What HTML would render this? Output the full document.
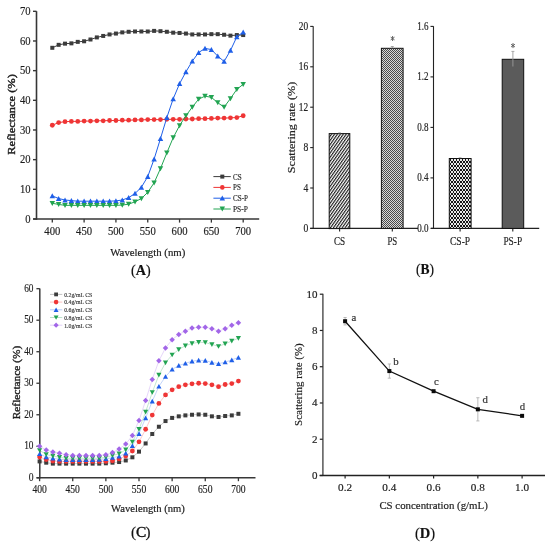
<!DOCTYPE html>
<html><head><meta charset="utf-8"><title>Figure</title>
<style>
html,body{margin:0;padding:0;background:#fff;}
body{width:550px;height:545px;overflow:hidden;font-family:"Liberation Serif", serif;}
svg{display:block;filter:blur(0.3px);}
text{font-variant-ligatures:none;font-feature-settings:"liga" 0;font-kerning:normal;}
</style></head><body>
<svg width="550" height="545" viewBox="0 0 550 545" font-family='"Liberation Serif", serif'><defs>
<pattern id="hatch" patternUnits="userSpaceOnUse" width="2.4" height="2.4" patternTransform="rotate(35)">
<rect width="2.4" height="2.4" fill="#fff"/><rect width="1.15" height="2.4" fill="#1a1a1a"/></pattern>
<pattern id="chk1" patternUnits="userSpaceOnUse" width="2" height="2">
<rect width="2" height="2" fill="#d8d8d8"/><rect width="1" height="1" fill="#4a4a4a"/><rect x="1" y="1" width="1" height="1" fill="#4a4a4a"/></pattern>
<pattern id="chk2" patternUnits="userSpaceOnUse" width="3" height="4" x="450" y="159"><rect width="3" height="4" fill="#e8e8e8"/><rect x="0" y="0" width="1" height="2" fill="#151515"/><rect x="1" y="2" width="2" height="2" fill="#151515"/></pattern>
</defs><line x1="36.5" y1="11.2" x2="36.5" y2="219.8" stroke="#363636" stroke-width="1.6"/>
<line x1="33.2" y1="219" x2="259.2" y2="219" stroke="#363636" stroke-width="1.6"/>
<line x1="33" y1="219" x2="36.5" y2="219" stroke="#363636" stroke-width="1.4"/>
<text x="30.5" y="222.7" font-size="12.6" text-anchor="end" fill="#1e1e1e" textLength="5.3" lengthAdjust="spacingAndGlyphs" stroke="#1e1e1e" stroke-width="0.18">0</text>
<line x1="33" y1="189.33" x2="36.5" y2="189.33" stroke="#363636" stroke-width="1.4"/>
<text x="30.5" y="193.03" font-size="12.6" text-anchor="end" fill="#1e1e1e" textLength="10.6" lengthAdjust="spacingAndGlyphs" stroke="#1e1e1e" stroke-width="0.18">10</text>
<line x1="33" y1="159.66" x2="36.5" y2="159.66" stroke="#363636" stroke-width="1.4"/>
<text x="30.5" y="163.36" font-size="12.6" text-anchor="end" fill="#1e1e1e" textLength="10.6" lengthAdjust="spacingAndGlyphs" stroke="#1e1e1e" stroke-width="0.18">20</text>
<line x1="33" y1="129.99" x2="36.5" y2="129.99" stroke="#363636" stroke-width="1.4"/>
<text x="30.5" y="133.69" font-size="12.6" text-anchor="end" fill="#1e1e1e" textLength="10.6" lengthAdjust="spacingAndGlyphs" stroke="#1e1e1e" stroke-width="0.18">30</text>
<line x1="33" y1="100.32" x2="36.5" y2="100.32" stroke="#363636" stroke-width="1.4"/>
<text x="30.5" y="104.02" font-size="12.6" text-anchor="end" fill="#1e1e1e" textLength="10.6" lengthAdjust="spacingAndGlyphs" stroke="#1e1e1e" stroke-width="0.18">40</text>
<line x1="33" y1="70.65" x2="36.5" y2="70.65" stroke="#363636" stroke-width="1.4"/>
<text x="30.5" y="74.35" font-size="12.6" text-anchor="end" fill="#1e1e1e" textLength="10.6" lengthAdjust="spacingAndGlyphs" stroke="#1e1e1e" stroke-width="0.18">50</text>
<line x1="33" y1="40.98" x2="36.5" y2="40.98" stroke="#363636" stroke-width="1.4"/>
<text x="30.5" y="44.68" font-size="12.6" text-anchor="end" fill="#1e1e1e" textLength="10.6" lengthAdjust="spacingAndGlyphs" stroke="#1e1e1e" stroke-width="0.18">60</text>
<line x1="33" y1="11.31" x2="36.5" y2="11.31" stroke="#363636" stroke-width="1.4"/>
<text x="30.5" y="15.01" font-size="12.6" text-anchor="end" fill="#1e1e1e" textLength="10.6" lengthAdjust="spacingAndGlyphs" stroke="#1e1e1e" stroke-width="0.18">70</text>
<line x1="52.3" y1="219" x2="52.3" y2="222.6" stroke="#363636" stroke-width="1.3"/>
<text x="52.3" y="235.3" font-size="12.2" text-anchor="middle" fill="#1e1e1e" textLength="16" lengthAdjust="spacingAndGlyphs" stroke="#1e1e1e" stroke-width="0.18">400</text>
<line x1="84.11" y1="219" x2="84.11" y2="222.6" stroke="#363636" stroke-width="1.3"/>
<text x="84.11" y="235.3" font-size="12.2" text-anchor="middle" fill="#1e1e1e" textLength="16" lengthAdjust="spacingAndGlyphs" stroke="#1e1e1e" stroke-width="0.18">450</text>
<line x1="115.93" y1="219" x2="115.93" y2="222.6" stroke="#363636" stroke-width="1.3"/>
<text x="115.93" y="235.3" font-size="12.2" text-anchor="middle" fill="#1e1e1e" textLength="16" lengthAdjust="spacingAndGlyphs" stroke="#1e1e1e" stroke-width="0.18">500</text>
<line x1="147.75" y1="219" x2="147.75" y2="222.6" stroke="#363636" stroke-width="1.3"/>
<text x="147.75" y="235.3" font-size="12.2" text-anchor="middle" fill="#1e1e1e" textLength="16" lengthAdjust="spacingAndGlyphs" stroke="#1e1e1e" stroke-width="0.18">550</text>
<line x1="179.56" y1="219" x2="179.56" y2="222.6" stroke="#363636" stroke-width="1.3"/>
<text x="179.56" y="235.3" font-size="12.2" text-anchor="middle" fill="#1e1e1e" textLength="16" lengthAdjust="spacingAndGlyphs" stroke="#1e1e1e" stroke-width="0.18">600</text>
<line x1="211.38" y1="219" x2="211.38" y2="222.6" stroke="#363636" stroke-width="1.3"/>
<text x="211.38" y="235.3" font-size="12.2" text-anchor="middle" fill="#1e1e1e" textLength="16" lengthAdjust="spacingAndGlyphs" stroke="#1e1e1e" stroke-width="0.18">650</text>
<line x1="243.19" y1="219" x2="243.19" y2="222.6" stroke="#363636" stroke-width="1.3"/>
<text x="243.19" y="235.3" font-size="12.2" text-anchor="middle" fill="#1e1e1e" textLength="16" lengthAdjust="spacingAndGlyphs" stroke="#1e1e1e" stroke-width="0.18">700</text>
<text x="147.8" y="255.6" font-size="11.4" text-anchor="middle" fill="#1e1e1e" textLength="75" lengthAdjust="spacingAndGlyphs" stroke="#1e1e1e" stroke-width="0.22">Wavelength (nm)</text>
<text x="14.9" y="114.4" font-size="10.6" text-anchor="middle" fill="#1e1e1e" textLength="80.6" lengthAdjust="spacingAndGlyphs" transform="rotate(-90 14.9 114.4)" stroke="#1e1e1e" stroke-width="0.4">Reflectance (%)</text>
<polyline points="52.3,47.8 58.66,44.84 65.03,43.65 71.39,43.35 77.75,41.87 84.11,41.28 90.48,39.5 96.84,37.42 103.2,35.94 109.57,34.45 115.93,33.56 122.29,32.38 128.66,31.78 135.02,31.49 141.38,31.49 147.75,31.49 154.11,30.89 160.47,31.19 166.83,31.78 173.2,32.67 179.56,32.97 185.92,33.56 192.29,34.45 198.65,34.45 205.01,34.45 211.38,34.16 217.74,34.16 224.1,34.75 230.46,35.64 236.83,35.05 243.19,35.05" fill="none" stroke="#3c3c3c" stroke-width="1"/>
<rect x="50.3" y="45.8" width="4" height="4" fill="#3c3c3c"/>
<rect x="56.66" y="42.84" width="4" height="4" fill="#3c3c3c"/>
<rect x="63.03" y="41.65" width="4" height="4" fill="#3c3c3c"/>
<rect x="69.39" y="41.35" width="4" height="4" fill="#3c3c3c"/>
<rect x="75.75" y="39.87" width="4" height="4" fill="#3c3c3c"/>
<rect x="82.11" y="39.28" width="4" height="4" fill="#3c3c3c"/>
<rect x="88.48" y="37.5" width="4" height="4" fill="#3c3c3c"/>
<rect x="94.84" y="35.42" width="4" height="4" fill="#3c3c3c"/>
<rect x="101.2" y="33.94" width="4" height="4" fill="#3c3c3c"/>
<rect x="107.57" y="32.45" width="4" height="4" fill="#3c3c3c"/>
<rect x="113.93" y="31.56" width="4" height="4" fill="#3c3c3c"/>
<rect x="120.29" y="30.38" width="4" height="4" fill="#3c3c3c"/>
<rect x="126.66" y="29.78" width="4" height="4" fill="#3c3c3c"/>
<rect x="133.02" y="29.49" width="4" height="4" fill="#3c3c3c"/>
<rect x="139.38" y="29.49" width="4" height="4" fill="#3c3c3c"/>
<rect x="145.75" y="29.49" width="4" height="4" fill="#3c3c3c"/>
<rect x="152.11" y="28.89" width="4" height="4" fill="#3c3c3c"/>
<rect x="158.47" y="29.19" width="4" height="4" fill="#3c3c3c"/>
<rect x="164.83" y="29.78" width="4" height="4" fill="#3c3c3c"/>
<rect x="171.2" y="30.67" width="4" height="4" fill="#3c3c3c"/>
<rect x="177.56" y="30.97" width="4" height="4" fill="#3c3c3c"/>
<rect x="183.92" y="31.56" width="4" height="4" fill="#3c3c3c"/>
<rect x="190.29" y="32.45" width="4" height="4" fill="#3c3c3c"/>
<rect x="196.65" y="32.45" width="4" height="4" fill="#3c3c3c"/>
<rect x="203.01" y="32.45" width="4" height="4" fill="#3c3c3c"/>
<rect x="209.38" y="32.16" width="4" height="4" fill="#3c3c3c"/>
<rect x="215.74" y="32.16" width="4" height="4" fill="#3c3c3c"/>
<rect x="222.1" y="32.75" width="4" height="4" fill="#3c3c3c"/>
<rect x="228.46" y="33.64" width="4" height="4" fill="#3c3c3c"/>
<rect x="234.83" y="33.05" width="4" height="4" fill="#3c3c3c"/>
<rect x="241.19" y="33.05" width="4" height="4" fill="#3c3c3c"/>
<polyline points="52.3,125.24 58.66,122.57 65.03,121.68 71.39,121.39 77.75,121.39 84.11,121.09 90.48,121.09 96.84,120.79 103.2,120.79 109.57,120.5 115.93,120.5 122.29,120.2 128.66,120.2 135.02,119.9 141.38,119.9 147.75,119.61 154.11,119.61 160.47,119.61 166.83,119.31 173.2,119.31 179.56,119.31 185.92,119.01 192.29,119.01 198.65,118.72 205.01,118.72 211.38,118.42 217.74,118.12 224.1,118.12 230.46,117.83 236.83,117.53 243.19,115.75" fill="none" stroke="#ef3535" stroke-width="1"/>
<circle cx="52.3" cy="125.24" r="2.4" fill="#ef3535"/>
<circle cx="58.66" cy="122.57" r="2.4" fill="#ef3535"/>
<circle cx="65.03" cy="121.68" r="2.4" fill="#ef3535"/>
<circle cx="71.39" cy="121.39" r="2.4" fill="#ef3535"/>
<circle cx="77.75" cy="121.39" r="2.4" fill="#ef3535"/>
<circle cx="84.11" cy="121.09" r="2.4" fill="#ef3535"/>
<circle cx="90.48" cy="121.09" r="2.4" fill="#ef3535"/>
<circle cx="96.84" cy="120.79" r="2.4" fill="#ef3535"/>
<circle cx="103.2" cy="120.79" r="2.4" fill="#ef3535"/>
<circle cx="109.57" cy="120.5" r="2.4" fill="#ef3535"/>
<circle cx="115.93" cy="120.5" r="2.4" fill="#ef3535"/>
<circle cx="122.29" cy="120.2" r="2.4" fill="#ef3535"/>
<circle cx="128.66" cy="120.2" r="2.4" fill="#ef3535"/>
<circle cx="135.02" cy="119.9" r="2.4" fill="#ef3535"/>
<circle cx="141.38" cy="119.9" r="2.4" fill="#ef3535"/>
<circle cx="147.75" cy="119.61" r="2.4" fill="#ef3535"/>
<circle cx="154.11" cy="119.61" r="2.4" fill="#ef3535"/>
<circle cx="160.47" cy="119.61" r="2.4" fill="#ef3535"/>
<circle cx="166.83" cy="119.31" r="2.4" fill="#ef3535"/>
<circle cx="173.2" cy="119.31" r="2.4" fill="#ef3535"/>
<circle cx="179.56" cy="119.31" r="2.4" fill="#ef3535"/>
<circle cx="185.92" cy="119.01" r="2.4" fill="#ef3535"/>
<circle cx="192.29" cy="119.01" r="2.4" fill="#ef3535"/>
<circle cx="198.65" cy="118.72" r="2.4" fill="#ef3535"/>
<circle cx="205.01" cy="118.72" r="2.4" fill="#ef3535"/>
<circle cx="211.38" cy="118.42" r="2.4" fill="#ef3535"/>
<circle cx="217.74" cy="118.12" r="2.4" fill="#ef3535"/>
<circle cx="224.1" cy="118.12" r="2.4" fill="#ef3535"/>
<circle cx="230.46" cy="117.83" r="2.4" fill="#ef3535"/>
<circle cx="236.83" cy="117.53" r="2.4" fill="#ef3535"/>
<circle cx="243.19" cy="115.75" r="2.4" fill="#ef3535"/>
<polyline points="52.3,195.86 58.66,198.53 65.03,200.01 71.39,200.6 77.75,201.2 84.11,201.2 90.48,201.2 96.84,201.2 103.2,201.2 109.57,201.2 115.93,200.9 122.29,200.01 128.66,197.64 135.02,193.48 141.38,187.25 147.75,176.57 154.11,159.07 160.47,138.59 166.83,117.53 173.2,98.84 179.56,83.7 185.92,71.84 192.29,61.16 198.65,52.55 205.01,48.4 211.38,49.58 217.74,56.11 224.1,61.45 230.46,50.47 236.83,36.83 243.19,32.08" fill="none" stroke="#1f5fe8" stroke-width="1"/>
<path d="M52.3 193.23L55.05 198.23L49.55 198.23Z" fill="#1f5fe8"/>
<path d="M58.66 195.9L61.41 200.9L55.91 200.9Z" fill="#1f5fe8"/>
<path d="M65.03 197.39L67.78 202.39L62.28 202.39Z" fill="#1f5fe8"/>
<path d="M71.39 197.98L74.14 202.98L68.64 202.98Z" fill="#1f5fe8"/>
<path d="M77.75 198.57L80.5 203.57L75 203.57Z" fill="#1f5fe8"/>
<path d="M84.11 198.57L86.86 203.57L81.36 203.57Z" fill="#1f5fe8"/>
<path d="M90.48 198.57L93.23 203.57L87.73 203.57Z" fill="#1f5fe8"/>
<path d="M96.84 198.57L99.59 203.57L94.09 203.57Z" fill="#1f5fe8"/>
<path d="M103.2 198.57L105.95 203.57L100.45 203.57Z" fill="#1f5fe8"/>
<path d="M109.57 198.57L112.32 203.57L106.82 203.57Z" fill="#1f5fe8"/>
<path d="M115.93 198.28L118.68 203.28L113.18 203.28Z" fill="#1f5fe8"/>
<path d="M122.29 197.39L125.04 202.39L119.54 202.39Z" fill="#1f5fe8"/>
<path d="M128.66 195.01L131.41 200.01L125.91 200.01Z" fill="#1f5fe8"/>
<path d="M135.02 190.86L137.77 195.86L132.27 195.86Z" fill="#1f5fe8"/>
<path d="M141.38 184.63L144.13 189.63L138.63 189.63Z" fill="#1f5fe8"/>
<path d="M147.75 173.95L150.5 178.95L145 178.95Z" fill="#1f5fe8"/>
<path d="M154.11 156.44L156.86 161.44L151.36 161.44Z" fill="#1f5fe8"/>
<path d="M160.47 135.97L163.22 140.97L157.72 140.97Z" fill="#1f5fe8"/>
<path d="M166.83 114.9L169.58 119.9L164.08 119.9Z" fill="#1f5fe8"/>
<path d="M173.2 96.21L175.95 101.21L170.45 101.21Z" fill="#1f5fe8"/>
<path d="M179.56 81.08L182.31 86.08L176.81 86.08Z" fill="#1f5fe8"/>
<path d="M185.92 69.21L188.67 74.21L183.17 74.21Z" fill="#1f5fe8"/>
<path d="M192.29 58.53L195.04 63.53L189.54 63.53Z" fill="#1f5fe8"/>
<path d="M198.65 49.93L201.4 54.93L195.9 54.93Z" fill="#1f5fe8"/>
<path d="M205.01 45.77L207.76 50.77L202.26 50.77Z" fill="#1f5fe8"/>
<path d="M211.38 46.96L214.12 51.96L208.62 51.96Z" fill="#1f5fe8"/>
<path d="M217.74 53.49L220.49 58.49L214.99 58.49Z" fill="#1f5fe8"/>
<path d="M224.1 58.83L226.85 63.83L221.35 63.83Z" fill="#1f5fe8"/>
<path d="M230.46 47.85L233.21 52.85L227.71 52.85Z" fill="#1f5fe8"/>
<path d="M236.83 34.2L239.58 39.2L234.08 39.2Z" fill="#1f5fe8"/>
<path d="M243.19 29.45L245.94 34.45L240.44 34.45Z" fill="#1f5fe8"/>
<polyline points="52.3,203.27 58.66,204.46 65.03,205.35 71.39,205.35 77.75,205.35 84.11,205.35 90.48,205.35 96.84,205.35 103.2,205.35 109.57,205.35 115.93,205.35 122.29,205.06 128.66,204.16 135.02,201.79 141.38,198.53 147.75,192.3 154.11,182.8 160.47,168.56 166.83,152.84 173.2,137.7 179.56,125.54 185.92,115.75 192.29,107.14 198.65,99.13 205.01,96.17 211.38,97.35 217.74,102.69 224.1,107.14 230.46,98.54 236.83,89.34 243.19,84.3" fill="none" stroke="#22a452" stroke-width="1"/>
<path d="M52.3 205.9L55.05 200.9L49.55 200.9Z" fill="#22a452"/>
<path d="M58.66 207.09L61.41 202.09L55.91 202.09Z" fill="#22a452"/>
<path d="M65.03 207.98L67.78 202.98L62.28 202.98Z" fill="#22a452"/>
<path d="M71.39 207.98L74.14 202.98L68.64 202.98Z" fill="#22a452"/>
<path d="M77.75 207.98L80.5 202.98L75 202.98Z" fill="#22a452"/>
<path d="M84.11 207.98L86.86 202.98L81.36 202.98Z" fill="#22a452"/>
<path d="M90.48 207.98L93.23 202.98L87.73 202.98Z" fill="#22a452"/>
<path d="M96.84 207.98L99.59 202.98L94.09 202.98Z" fill="#22a452"/>
<path d="M103.2 207.98L105.95 202.98L100.45 202.98Z" fill="#22a452"/>
<path d="M109.57 207.98L112.32 202.98L106.82 202.98Z" fill="#22a452"/>
<path d="M115.93 207.98L118.68 202.98L113.18 202.98Z" fill="#22a452"/>
<path d="M122.29 207.68L125.04 202.68L119.54 202.68Z" fill="#22a452"/>
<path d="M128.66 206.79L131.41 201.79L125.91 201.79Z" fill="#22a452"/>
<path d="M135.02 204.42L137.77 199.42L132.27 199.42Z" fill="#22a452"/>
<path d="M141.38 201.15L144.13 196.15L138.63 196.15Z" fill="#22a452"/>
<path d="M147.75 194.92L150.5 189.92L145 189.92Z" fill="#22a452"/>
<path d="M154.11 185.43L156.86 180.43L151.36 180.43Z" fill="#22a452"/>
<path d="M160.47 171.19L163.22 166.19L157.72 166.19Z" fill="#22a452"/>
<path d="M166.83 155.46L169.58 150.46L164.08 150.46Z" fill="#22a452"/>
<path d="M173.2 140.33L175.95 135.33L170.45 135.33Z" fill="#22a452"/>
<path d="M179.56 128.16L182.31 123.16L176.81 123.16Z" fill="#22a452"/>
<path d="M185.92 118.37L188.67 113.37L183.17 113.37Z" fill="#22a452"/>
<path d="M192.29 109.77L195.04 104.77L189.54 104.77Z" fill="#22a452"/>
<path d="M198.65 101.76L201.4 96.76L195.9 96.76Z" fill="#22a452"/>
<path d="M205.01 98.79L207.76 93.79L202.26 93.79Z" fill="#22a452"/>
<path d="M211.38 99.98L214.12 94.98L208.62 94.98Z" fill="#22a452"/>
<path d="M217.74 105.32L220.49 100.32L214.99 100.32Z" fill="#22a452"/>
<path d="M224.1 109.77L226.85 104.77L221.35 104.77Z" fill="#22a452"/>
<path d="M230.46 101.16L233.21 96.16L227.71 96.16Z" fill="#22a452"/>
<path d="M236.83 91.97L239.58 86.97L234.08 86.97Z" fill="#22a452"/>
<path d="M243.19 86.92L245.94 81.92L240.44 81.92Z" fill="#22a452"/>
<line x1="213.4" y1="176.6" x2="230.8" y2="176.6" stroke="#3c3c3c" stroke-width="1"/>
<rect x="220.3" y="174.6" width="4" height="4" fill="#3c3c3c"/>
<text x="233" y="179.5" font-size="8.4" text-anchor="start" fill="#2a2a2a" textLength="8.6" lengthAdjust="spacingAndGlyphs" stroke="#2a2a2a" stroke-width="0.18">CS</text>
<line x1="213.4" y1="187.4" x2="230.8" y2="187.4" stroke="#ef3535" stroke-width="1"/>
<circle cx="222.3" cy="187.4" r="2.3" fill="#ef3535"/>
<text x="233" y="190.3" font-size="8.4" text-anchor="start" fill="#2a2a2a" textLength="7.8" lengthAdjust="spacingAndGlyphs" stroke="#2a2a2a" stroke-width="0.18">PS</text>
<line x1="213.4" y1="198.2" x2="230.8" y2="198.2" stroke="#1f5fe8" stroke-width="1"/>
<path d="M222.3 195.57L225.05 200.57L219.55 200.57Z" fill="#1f5fe8"/>
<text x="233" y="201.1" font-size="8.4" text-anchor="start" fill="#2a2a2a" textLength="15" lengthAdjust="spacingAndGlyphs" stroke="#2a2a2a" stroke-width="0.18">CS-P</text>
<line x1="213.4" y1="209" x2="230.8" y2="209" stroke="#22a452" stroke-width="1"/>
<path d="M222.3 211.62L225.05 206.62L219.55 206.62Z" fill="#22a452"/>
<text x="233" y="211.9" font-size="8.4" text-anchor="start" fill="#2a2a2a" textLength="14.8" lengthAdjust="spacingAndGlyphs" stroke="#2a2a2a" stroke-width="0.18">PS-P</text>
<text x="140.8" y="274.9" font-size="15" text-anchor="middle" fill="#111" textLength="19.6" lengthAdjust="spacingAndGlyphs" stroke="#111" stroke-width="0.18">(<tspan font-weight="bold">A</tspan>)</text>
<line x1="313.2" y1="26.2" x2="313.2" y2="229" stroke="#222" stroke-width="1.1"/>
<line x1="310.2" y1="228.4" x2="418" y2="228.4" stroke="#222" stroke-width="1.3"/>
<line x1="310.2" y1="228.4" x2="313.2" y2="228.4" stroke="#222" stroke-width="1.1"/>
<text x="308.2" y="231.9" font-size="11.8" text-anchor="end" fill="#222" textLength="4.8" lengthAdjust="spacingAndGlyphs" stroke="#222" stroke-width="0.18">0</text>
<line x1="310.2" y1="188" x2="313.2" y2="188" stroke="#222" stroke-width="1.1"/>
<text x="308.2" y="191.5" font-size="11.8" text-anchor="end" fill="#222" textLength="4.8" lengthAdjust="spacingAndGlyphs" stroke="#222" stroke-width="0.18">4</text>
<line x1="310.2" y1="147.6" x2="313.2" y2="147.6" stroke="#222" stroke-width="1.1"/>
<text x="308.2" y="151.1" font-size="11.8" text-anchor="end" fill="#222" textLength="4.8" lengthAdjust="spacingAndGlyphs" stroke="#222" stroke-width="0.18">8</text>
<line x1="310.2" y1="107.2" x2="313.2" y2="107.2" stroke="#222" stroke-width="1.1"/>
<text x="308.2" y="110.7" font-size="11.8" text-anchor="end" fill="#222" textLength="9.4" lengthAdjust="spacingAndGlyphs" stroke="#222" stroke-width="0.18">12</text>
<line x1="310.2" y1="66.8" x2="313.2" y2="66.8" stroke="#222" stroke-width="1.1"/>
<text x="308.2" y="70.3" font-size="11.8" text-anchor="end" fill="#222" textLength="9.4" lengthAdjust="spacingAndGlyphs" stroke="#222" stroke-width="0.18">16</text>
<line x1="310.2" y1="26.4" x2="313.2" y2="26.4" stroke="#222" stroke-width="1.1"/>
<text x="308.2" y="29.9" font-size="11.8" text-anchor="end" fill="#222" textLength="9.4" lengthAdjust="spacingAndGlyphs" stroke="#222" stroke-width="0.18">20</text>
<line x1="433.5" y1="26.2" x2="433.5" y2="229" stroke="#222" stroke-width="1.1"/>
<line x1="431" y1="228.4" x2="539.2" y2="228.4" stroke="#222" stroke-width="1.3"/>
<line x1="430.5" y1="228.4" x2="433.5" y2="228.4" stroke="#222" stroke-width="1.1"/>
<text x="428.6" y="231.9" font-size="11.8" text-anchor="end" fill="#222" textLength="11.3" lengthAdjust="spacingAndGlyphs" stroke="#222" stroke-width="0.18">0.0</text>
<line x1="430.5" y1="177.9" x2="433.5" y2="177.9" stroke="#222" stroke-width="1.1"/>
<text x="428.6" y="181.4" font-size="11.8" text-anchor="end" fill="#222" textLength="11.3" lengthAdjust="spacingAndGlyphs" stroke="#222" stroke-width="0.18">0.4</text>
<line x1="430.5" y1="127.4" x2="433.5" y2="127.4" stroke="#222" stroke-width="1.1"/>
<text x="428.6" y="130.9" font-size="11.8" text-anchor="end" fill="#222" textLength="11.3" lengthAdjust="spacingAndGlyphs" stroke="#222" stroke-width="0.18">0.8</text>
<line x1="430.5" y1="76.9" x2="433.5" y2="76.9" stroke="#222" stroke-width="1.1"/>
<text x="428.6" y="80.4" font-size="11.8" text-anchor="end" fill="#222" textLength="11.3" lengthAdjust="spacingAndGlyphs" stroke="#222" stroke-width="0.18">1.2</text>
<line x1="430.5" y1="26.4" x2="433.5" y2="26.4" stroke="#222" stroke-width="1.1"/>
<text x="428.6" y="29.9" font-size="11.8" text-anchor="end" fill="#222" textLength="11.3" lengthAdjust="spacingAndGlyphs" stroke="#222" stroke-width="0.18">1.6</text>
<line x1="339.6" y1="228.4" x2="339.6" y2="231.6" stroke="#222" stroke-width="1.1"/>
<text x="339.6" y="244.8" font-size="12.4" text-anchor="middle" fill="#222" textLength="11.2" lengthAdjust="spacingAndGlyphs" stroke="#222" stroke-width="0.18">CS</text>
<line x1="392.3" y1="228.4" x2="392.3" y2="231.6" stroke="#222" stroke-width="1.1"/>
<text x="392.3" y="244.8" font-size="12.4" text-anchor="middle" fill="#222" textLength="9.8" lengthAdjust="spacingAndGlyphs" stroke="#222" stroke-width="0.18">PS</text>
<line x1="460.1" y1="228.4" x2="460.1" y2="231.6" stroke="#222" stroke-width="1.1"/>
<text x="460.1" y="244.8" font-size="12.4" text-anchor="middle" fill="#222" textLength="20.2" lengthAdjust="spacingAndGlyphs" stroke="#222" stroke-width="0.18">CS-P</text>
<line x1="512.8" y1="228.4" x2="512.8" y2="231.6" stroke="#222" stroke-width="1.1"/>
<text x="512.8" y="244.8" font-size="12.4" text-anchor="middle" fill="#222" textLength="18.8" lengthAdjust="spacingAndGlyphs" stroke="#222" stroke-width="0.18">PS-P</text>
<rect x="329.2" y="133.6" width="20.6" height="95" fill="url(#hatch)" stroke="#111" stroke-width="1"/>
<rect x="381.4" y="48.3" width="21.7" height="180.1" fill="url(#chk1)" stroke="#111" stroke-width="1"/>
<rect x="449.3" y="158.5" width="21.8" height="69.9" fill="url(#chk2)" stroke="#111" stroke-width="1"/>
<rect x="502.2" y="59.3" width="21.5" height="169.1" fill="#5b5b5b" stroke="#111" stroke-width="1"/>
<line x1="392.3" y1="46.6" x2="392.3" y2="48.3" stroke="#888" stroke-width="0.8"/>
<line x1="390.8" y1="46.6" x2="393.8" y2="46.6" stroke="#888" stroke-width="0.8"/>
<line x1="512.9" y1="51.4" x2="512.9" y2="66.5" stroke="#9a9a9a" stroke-width="0.9"/>
<line x1="511.4" y1="51.4" x2="514.4" y2="51.4" stroke="#999" stroke-width="0.8"/>
<line x1="458.7" y1="157.7" x2="461.5" y2="157.7" stroke="#999" stroke-width="0.8"/>
<line x1="338.3" y1="133" x2="340.9" y2="133" stroke="#777" stroke-width="0.8"/>
<path d="M392.6 36V41M390.7 37.15L394.5 39.85M390.7 39.85L394.5 37.15" stroke="#5a5a5a" stroke-width="0.95" fill="none"/>
<path d="M513 43.1V48.1M511.1 44.25L514.9 46.95M511.1 46.95L514.9 44.25" stroke="#5a5a5a" stroke-width="0.95" fill="none"/>
<text x="295" y="127.5" font-size="9.8" text-anchor="middle" fill="#222" textLength="91.4" lengthAdjust="spacingAndGlyphs" transform="rotate(-90 295 127.5)" stroke="#222" stroke-width="0.18">Scattering rate (%)</text>
<text x="424.9" y="274.4" font-size="15" text-anchor="middle" fill="#111" textLength="18" lengthAdjust="spacingAndGlyphs" stroke="#111" stroke-width="0.18">(<tspan font-weight="bold">B</tspan>)</text>
<line x1="39.8" y1="288.4" x2="39.8" y2="478.5" stroke="#383838" stroke-width="1.5"/>
<line x1="36.6" y1="477.8" x2="255.5" y2="477.8" stroke="#383838" stroke-width="1.6"/>
<line x1="36.4" y1="477.8" x2="39.8" y2="477.8" stroke="#383838" stroke-width="1.3"/>
<text x="33.5" y="481" font-size="11.8" text-anchor="end" fill="#1e1e1e" textLength="4.8" lengthAdjust="spacingAndGlyphs" stroke="#1e1e1e" stroke-width="0.18">0</text>
<line x1="36.4" y1="446.28" x2="39.8" y2="446.28" stroke="#383838" stroke-width="1.3"/>
<text x="33.5" y="449.48" font-size="11.8" text-anchor="end" fill="#1e1e1e" textLength="9.3" lengthAdjust="spacingAndGlyphs" stroke="#1e1e1e" stroke-width="0.18">10</text>
<line x1="36.4" y1="414.76" x2="39.8" y2="414.76" stroke="#383838" stroke-width="1.3"/>
<text x="33.5" y="417.96" font-size="11.8" text-anchor="end" fill="#1e1e1e" textLength="9.3" lengthAdjust="spacingAndGlyphs" stroke="#1e1e1e" stroke-width="0.18">20</text>
<line x1="36.4" y1="383.24" x2="39.8" y2="383.24" stroke="#383838" stroke-width="1.3"/>
<text x="33.5" y="386.44" font-size="11.8" text-anchor="end" fill="#1e1e1e" textLength="9.3" lengthAdjust="spacingAndGlyphs" stroke="#1e1e1e" stroke-width="0.18">30</text>
<line x1="36.4" y1="351.72" x2="39.8" y2="351.72" stroke="#383838" stroke-width="1.3"/>
<text x="33.5" y="354.92" font-size="11.8" text-anchor="end" fill="#1e1e1e" textLength="9.3" lengthAdjust="spacingAndGlyphs" stroke="#1e1e1e" stroke-width="0.18">40</text>
<line x1="36.4" y1="320.2" x2="39.8" y2="320.2" stroke="#383838" stroke-width="1.3"/>
<text x="33.5" y="323.4" font-size="11.8" text-anchor="end" fill="#1e1e1e" textLength="9.3" lengthAdjust="spacingAndGlyphs" stroke="#1e1e1e" stroke-width="0.18">50</text>
<line x1="36.4" y1="288.68" x2="39.8" y2="288.68" stroke="#383838" stroke-width="1.3"/>
<text x="33.5" y="291.88" font-size="11.8" text-anchor="end" fill="#1e1e1e" textLength="9.3" lengthAdjust="spacingAndGlyphs" stroke="#1e1e1e" stroke-width="0.18">60</text>
<line x1="39.6" y1="477.8" x2="39.6" y2="481.2" stroke="#383838" stroke-width="1.3"/>
<text x="39.6" y="493.2" font-size="11.8" text-anchor="middle" fill="#1e1e1e" textLength="14.4" lengthAdjust="spacingAndGlyphs" stroke="#1e1e1e" stroke-width="0.18">400</text>
<line x1="72.73" y1="477.8" x2="72.73" y2="481.2" stroke="#383838" stroke-width="1.3"/>
<text x="72.73" y="493.2" font-size="11.8" text-anchor="middle" fill="#1e1e1e" textLength="14.4" lengthAdjust="spacingAndGlyphs" stroke="#1e1e1e" stroke-width="0.18">450</text>
<line x1="105.87" y1="477.8" x2="105.87" y2="481.2" stroke="#383838" stroke-width="1.3"/>
<text x="105.87" y="493.2" font-size="11.8" text-anchor="middle" fill="#1e1e1e" textLength="14.4" lengthAdjust="spacingAndGlyphs" stroke="#1e1e1e" stroke-width="0.18">500</text>
<line x1="139" y1="477.8" x2="139" y2="481.2" stroke="#383838" stroke-width="1.3"/>
<text x="139" y="493.2" font-size="11.8" text-anchor="middle" fill="#1e1e1e" textLength="14.4" lengthAdjust="spacingAndGlyphs" stroke="#1e1e1e" stroke-width="0.18">550</text>
<line x1="172.14" y1="477.8" x2="172.14" y2="481.2" stroke="#383838" stroke-width="1.3"/>
<text x="172.14" y="493.2" font-size="11.8" text-anchor="middle" fill="#1e1e1e" textLength="14.4" lengthAdjust="spacingAndGlyphs" stroke="#1e1e1e" stroke-width="0.18">600</text>
<line x1="205.27" y1="477.8" x2="205.27" y2="481.2" stroke="#383838" stroke-width="1.3"/>
<text x="205.27" y="493.2" font-size="11.8" text-anchor="middle" fill="#1e1e1e" textLength="14.4" lengthAdjust="spacingAndGlyphs" stroke="#1e1e1e" stroke-width="0.18">650</text>
<line x1="238.41" y1="477.8" x2="238.41" y2="481.2" stroke="#383838" stroke-width="1.3"/>
<text x="238.41" y="493.2" font-size="11.8" text-anchor="middle" fill="#1e1e1e" textLength="14.4" lengthAdjust="spacingAndGlyphs" stroke="#1e1e1e" stroke-width="0.18">700</text>
<text x="148" y="511.6" font-size="11.2" text-anchor="middle" fill="#1e1e1e" textLength="73.8" lengthAdjust="spacingAndGlyphs" stroke="#1e1e1e" stroke-width="0.22">Wavelength (nm)</text>
<text x="19.6" y="382.5" font-size="10.4" text-anchor="middle" fill="#1e1e1e" textLength="73.6" lengthAdjust="spacingAndGlyphs" transform="rotate(-90 19.6 382.5)" stroke="#1e1e1e" stroke-width="0.35">Reflectance (%)</text>
<polyline points="39.6,461.41 46.23,462.67 52.85,463.62 59.48,463.62 66.11,463.62 72.73,463.62 79.36,463.62 85.99,463.62 92.62,463.62 99.24,463.62 105.87,463.3 112.5,462.67 119.12,462.04 125.75,460.46 132.38,457.31 139,451.64 145.63,443.44 152.26,433.99 158.89,426.74 165.51,421.06 172.14,417.91 178.77,416.34 185.39,415.39 192.02,414.76 198.65,414.44 205.27,414.76 211.9,416.34 218.53,416.97 225.16,416.02 231.78,415.39 238.41,413.81" fill="none" stroke="#3c3c3c" stroke-width="0.6" stroke-opacity="0.45"/>
<polyline points="39.6,457 46.23,459.52 52.85,461.09 59.48,461.41 66.11,461.41 72.73,461.41 79.36,461.41 85.99,461.41 92.62,461.41 99.24,461.41 105.87,461.41 112.5,460.78 119.12,458.89 125.75,456.05 132.38,451.01 139,441.87 145.63,429.26 152.26,415.08 158.89,403.41 165.51,394.9 172.14,389.86 178.77,386.71 185.39,384.82 192.02,383.87 198.65,383.24 205.27,383.56 211.9,384.82 218.53,386.71 225.16,384.5 231.78,383.56 238.41,381.03" fill="none" stroke="#ef3535" stroke-width="0.6" stroke-opacity="0.45"/>
<polyline points="39.6,453.84 46.23,457 52.85,458.26 59.48,459.2 66.11,459.83 72.73,459.83 79.36,459.83 85.99,459.83 92.62,459.83 99.24,459.52 105.87,458.89 112.5,457.63 119.12,456.37 125.75,453.21 132.38,445.65 139,433.67 145.63,417.91 152.26,401.21 158.89,386.39 165.51,376.62 172.14,369.37 178.77,365.59 185.39,363.38 192.02,361.18 198.65,360.23 205.27,360.55 211.9,362.44 218.53,363.7 225.16,362.12 231.78,359.92 238.41,357.39" fill="none" stroke="#1f5fe8" stroke-width="0.6" stroke-opacity="0.45"/>
<polyline points="39.6,450.38 46.23,454.48 52.85,456.05 59.48,457.31 66.11,458.26 72.73,458.26 79.36,458.26 85.99,458.26 92.62,458.26 99.24,458.26 105.87,457.31 112.5,455.42 119.12,453.84 125.75,449.75 132.38,441.87 139,429.26 145.63,411.92 152.26,392.38 158.89,375.04 165.51,362.75 172.14,354.87 178.77,349.51 185.39,345.73 192.02,343.52 198.65,342.26 205.27,342.58 211.9,344.47 218.53,346.36 225.16,343.84 231.78,341 238.41,338.17" fill="none" stroke="#22a452" stroke-width="0.6" stroke-opacity="0.45"/>
<polyline points="39.6,446.28 46.23,450.06 52.85,451.95 59.48,453.21 66.11,454.79 72.73,455.42 79.36,455.42 85.99,455.42 92.62,455.42 99.24,455.42 105.87,454.79 112.5,452.58 119.12,449.12 125.75,444.07 132.38,435.56 139,420.43 145.63,400.58 152.26,379.46 158.89,360.86 165.51,347.94 172.14,339.74 178.77,334.38 185.39,331.23 192.02,328.08 198.65,327.13 205.27,327.13 211.9,328.71 218.53,331.23 225.16,328.71 231.78,325.24 238.41,322.72" fill="none" stroke="#a266e8" stroke-width="0.6" stroke-opacity="0.45"/>
<rect x="37.6" y="459.41" width="4" height="4" fill="#3c3c3c"/>
<rect x="44.23" y="460.67" width="4" height="4" fill="#3c3c3c"/>
<rect x="50.85" y="461.62" width="4" height="4" fill="#3c3c3c"/>
<rect x="57.48" y="461.62" width="4" height="4" fill="#3c3c3c"/>
<rect x="64.11" y="461.62" width="4" height="4" fill="#3c3c3c"/>
<rect x="70.73" y="461.62" width="4" height="4" fill="#3c3c3c"/>
<rect x="77.36" y="461.62" width="4" height="4" fill="#3c3c3c"/>
<rect x="83.99" y="461.62" width="4" height="4" fill="#3c3c3c"/>
<rect x="90.62" y="461.62" width="4" height="4" fill="#3c3c3c"/>
<rect x="97.24" y="461.62" width="4" height="4" fill="#3c3c3c"/>
<rect x="103.87" y="461.3" width="4" height="4" fill="#3c3c3c"/>
<rect x="110.5" y="460.67" width="4" height="4" fill="#3c3c3c"/>
<rect x="117.12" y="460.04" width="4" height="4" fill="#3c3c3c"/>
<rect x="123.75" y="458.46" width="4" height="4" fill="#3c3c3c"/>
<rect x="130.38" y="455.31" width="4" height="4" fill="#3c3c3c"/>
<rect x="137" y="449.64" width="4" height="4" fill="#3c3c3c"/>
<rect x="143.63" y="441.44" width="4" height="4" fill="#3c3c3c"/>
<rect x="150.26" y="431.99" width="4" height="4" fill="#3c3c3c"/>
<rect x="156.89" y="424.74" width="4" height="4" fill="#3c3c3c"/>
<rect x="163.51" y="419.06" width="4" height="4" fill="#3c3c3c"/>
<rect x="170.14" y="415.91" width="4" height="4" fill="#3c3c3c"/>
<rect x="176.77" y="414.34" width="4" height="4" fill="#3c3c3c"/>
<rect x="183.39" y="413.39" width="4" height="4" fill="#3c3c3c"/>
<rect x="190.02" y="412.76" width="4" height="4" fill="#3c3c3c"/>
<rect x="196.65" y="412.44" width="4" height="4" fill="#3c3c3c"/>
<rect x="203.27" y="412.76" width="4" height="4" fill="#3c3c3c"/>
<rect x="209.9" y="414.34" width="4" height="4" fill="#3c3c3c"/>
<rect x="216.53" y="414.97" width="4" height="4" fill="#3c3c3c"/>
<rect x="223.16" y="414.02" width="4" height="4" fill="#3c3c3c"/>
<rect x="229.78" y="413.39" width="4" height="4" fill="#3c3c3c"/>
<rect x="236.41" y="411.81" width="4" height="4" fill="#3c3c3c"/>
<circle cx="39.6" cy="457" r="2.4" fill="#ef3535"/>
<circle cx="46.23" cy="459.52" r="2.4" fill="#ef3535"/>
<circle cx="52.85" cy="461.09" r="2.4" fill="#ef3535"/>
<circle cx="59.48" cy="461.41" r="2.4" fill="#ef3535"/>
<circle cx="66.11" cy="461.41" r="2.4" fill="#ef3535"/>
<circle cx="72.73" cy="461.41" r="2.4" fill="#ef3535"/>
<circle cx="79.36" cy="461.41" r="2.4" fill="#ef3535"/>
<circle cx="85.99" cy="461.41" r="2.4" fill="#ef3535"/>
<circle cx="92.62" cy="461.41" r="2.4" fill="#ef3535"/>
<circle cx="99.24" cy="461.41" r="2.4" fill="#ef3535"/>
<circle cx="105.87" cy="461.41" r="2.4" fill="#ef3535"/>
<circle cx="112.5" cy="460.78" r="2.4" fill="#ef3535"/>
<circle cx="119.12" cy="458.89" r="2.4" fill="#ef3535"/>
<circle cx="125.75" cy="456.05" r="2.4" fill="#ef3535"/>
<circle cx="132.38" cy="451.01" r="2.4" fill="#ef3535"/>
<circle cx="139" cy="441.87" r="2.4" fill="#ef3535"/>
<circle cx="145.63" cy="429.26" r="2.4" fill="#ef3535"/>
<circle cx="152.26" cy="415.08" r="2.4" fill="#ef3535"/>
<circle cx="158.89" cy="403.41" r="2.4" fill="#ef3535"/>
<circle cx="165.51" cy="394.9" r="2.4" fill="#ef3535"/>
<circle cx="172.14" cy="389.86" r="2.4" fill="#ef3535"/>
<circle cx="178.77" cy="386.71" r="2.4" fill="#ef3535"/>
<circle cx="185.39" cy="384.82" r="2.4" fill="#ef3535"/>
<circle cx="192.02" cy="383.87" r="2.4" fill="#ef3535"/>
<circle cx="198.65" cy="383.24" r="2.4" fill="#ef3535"/>
<circle cx="205.27" cy="383.56" r="2.4" fill="#ef3535"/>
<circle cx="211.9" cy="384.82" r="2.4" fill="#ef3535"/>
<circle cx="218.53" cy="386.71" r="2.4" fill="#ef3535"/>
<circle cx="225.16" cy="384.5" r="2.4" fill="#ef3535"/>
<circle cx="231.78" cy="383.56" r="2.4" fill="#ef3535"/>
<circle cx="238.41" cy="381.03" r="2.4" fill="#ef3535"/>
<path d="M39.6 451.38L42.19 456.08L37.02 456.08Z" fill="#1f5fe8"/>
<path d="M46.23 454.53L48.81 459.23L43.64 459.23Z" fill="#1f5fe8"/>
<path d="M52.85 455.79L55.44 460.49L50.27 460.49Z" fill="#1f5fe8"/>
<path d="M59.48 456.74L62.07 461.44L56.9 461.44Z" fill="#1f5fe8"/>
<path d="M66.11 457.37L68.69 462.07L63.52 462.07Z" fill="#1f5fe8"/>
<path d="M72.73 457.37L75.32 462.07L70.15 462.07Z" fill="#1f5fe8"/>
<path d="M79.36 457.37L81.95 462.07L76.78 462.07Z" fill="#1f5fe8"/>
<path d="M85.99 457.37L88.57 462.07L83.4 462.07Z" fill="#1f5fe8"/>
<path d="M92.62 457.37L95.2 462.07L90.03 462.07Z" fill="#1f5fe8"/>
<path d="M99.24 457.05L101.83 461.75L96.66 461.75Z" fill="#1f5fe8"/>
<path d="M105.87 456.42L108.45 461.12L103.29 461.12Z" fill="#1f5fe8"/>
<path d="M112.5 455.16L115.08 459.86L109.91 459.86Z" fill="#1f5fe8"/>
<path d="M119.12 453.9L121.71 458.6L116.54 458.6Z" fill="#1f5fe8"/>
<path d="M125.75 450.75L128.34 455.45L123.17 455.45Z" fill="#1f5fe8"/>
<path d="M132.38 443.18L134.96 447.88L129.79 447.88Z" fill="#1f5fe8"/>
<path d="M139 431.2L141.59 435.9L136.42 435.9Z" fill="#1f5fe8"/>
<path d="M145.63 415.44L148.22 420.14L143.05 420.14Z" fill="#1f5fe8"/>
<path d="M152.26 398.74L154.84 403.44L149.67 403.44Z" fill="#1f5fe8"/>
<path d="M158.89 383.92L161.47 388.62L156.3 388.62Z" fill="#1f5fe8"/>
<path d="M165.51 374.15L168.1 378.85L162.93 378.85Z" fill="#1f5fe8"/>
<path d="M172.14 366.9L174.72 371.6L169.55 371.6Z" fill="#1f5fe8"/>
<path d="M178.77 363.12L181.35 367.82L176.18 367.82Z" fill="#1f5fe8"/>
<path d="M185.39 360.91L187.98 365.61L182.81 365.61Z" fill="#1f5fe8"/>
<path d="M192.02 358.71L194.61 363.41L189.44 363.41Z" fill="#1f5fe8"/>
<path d="M198.65 357.76L201.23 362.46L196.06 362.46Z" fill="#1f5fe8"/>
<path d="M205.27 358.08L207.86 362.78L202.69 362.78Z" fill="#1f5fe8"/>
<path d="M211.9 359.97L214.49 364.67L209.32 364.67Z" fill="#1f5fe8"/>
<path d="M218.53 361.23L221.11 365.93L215.94 365.93Z" fill="#1f5fe8"/>
<path d="M225.16 359.65L227.74 364.35L222.57 364.35Z" fill="#1f5fe8"/>
<path d="M231.78 357.45L234.37 362.15L229.2 362.15Z" fill="#1f5fe8"/>
<path d="M238.41 354.93L240.99 359.63L235.82 359.63Z" fill="#1f5fe8"/>
<path d="M39.6 452.85L42.19 448.15L37.02 448.15Z" fill="#22a452"/>
<path d="M46.23 456.94L48.81 452.24L43.64 452.24Z" fill="#22a452"/>
<path d="M52.85 458.52L55.44 453.82L50.27 453.82Z" fill="#22a452"/>
<path d="M59.48 459.78L62.07 455.08L56.9 455.08Z" fill="#22a452"/>
<path d="M66.11 460.73L68.69 456.03L63.52 456.03Z" fill="#22a452"/>
<path d="M72.73 460.73L75.32 456.03L70.15 456.03Z" fill="#22a452"/>
<path d="M79.36 460.73L81.95 456.03L76.78 456.03Z" fill="#22a452"/>
<path d="M85.99 460.73L88.57 456.03L83.4 456.03Z" fill="#22a452"/>
<path d="M92.62 460.73L95.2 456.03L90.03 456.03Z" fill="#22a452"/>
<path d="M99.24 460.73L101.83 456.03L96.66 456.03Z" fill="#22a452"/>
<path d="M105.87 459.78L108.45 455.08L103.29 455.08Z" fill="#22a452"/>
<path d="M112.5 457.89L115.08 453.19L109.91 453.19Z" fill="#22a452"/>
<path d="M119.12 456.31L121.71 451.61L116.54 451.61Z" fill="#22a452"/>
<path d="M125.75 452.21L128.34 447.51L123.17 447.51Z" fill="#22a452"/>
<path d="M132.38 444.33L134.96 439.63L129.79 439.63Z" fill="#22a452"/>
<path d="M139 431.73L141.59 427.03L136.42 427.03Z" fill="#22a452"/>
<path d="M145.63 414.39L148.22 409.69L143.05 409.69Z" fill="#22a452"/>
<path d="M152.26 394.85L154.84 390.15L149.67 390.15Z" fill="#22a452"/>
<path d="M158.89 377.51L161.47 372.81L156.3 372.81Z" fill="#22a452"/>
<path d="M165.51 365.22L168.1 360.52L162.93 360.52Z" fill="#22a452"/>
<path d="M172.14 357.34L174.72 352.64L169.55 352.64Z" fill="#22a452"/>
<path d="M178.77 351.98L181.35 347.28L176.18 347.28Z" fill="#22a452"/>
<path d="M185.39 348.2L187.98 343.5L182.81 343.5Z" fill="#22a452"/>
<path d="M192.02 345.99L194.61 341.29L189.44 341.29Z" fill="#22a452"/>
<path d="M198.65 344.73L201.23 340.03L196.06 340.03Z" fill="#22a452"/>
<path d="M205.27 345.05L207.86 340.35L202.69 340.35Z" fill="#22a452"/>
<path d="M211.9 346.94L214.49 342.24L209.32 342.24Z" fill="#22a452"/>
<path d="M218.53 348.83L221.11 344.13L215.94 344.13Z" fill="#22a452"/>
<path d="M225.16 346.31L227.74 341.61L222.57 341.61Z" fill="#22a452"/>
<path d="M231.78 343.47L234.37 338.77L229.2 338.77Z" fill="#22a452"/>
<path d="M238.41 340.63L240.99 335.93L235.82 335.93Z" fill="#22a452"/>
<path d="M39.6 443.53L42.35 446.28L39.6 449.03L36.85 446.28Z" fill="#a266e8"/>
<path d="M46.23 447.31L48.98 450.06L46.23 452.81L43.48 450.06Z" fill="#a266e8"/>
<path d="M52.85 449.2L55.6 451.95L52.85 454.7L50.1 451.95Z" fill="#a266e8"/>
<path d="M59.48 450.46L62.23 453.21L59.48 455.96L56.73 453.21Z" fill="#a266e8"/>
<path d="M66.11 452.04L68.86 454.79L66.11 457.54L63.36 454.79Z" fill="#a266e8"/>
<path d="M72.73 452.67L75.48 455.42L72.73 458.17L69.98 455.42Z" fill="#a266e8"/>
<path d="M79.36 452.67L82.11 455.42L79.36 458.17L76.61 455.42Z" fill="#a266e8"/>
<path d="M85.99 452.67L88.74 455.42L85.99 458.17L83.24 455.42Z" fill="#a266e8"/>
<path d="M92.62 452.67L95.37 455.42L92.62 458.17L89.87 455.42Z" fill="#a266e8"/>
<path d="M99.24 452.67L101.99 455.42L99.24 458.17L96.49 455.42Z" fill="#a266e8"/>
<path d="M105.87 452.04L108.62 454.79L105.87 457.54L103.12 454.79Z" fill="#a266e8"/>
<path d="M112.5 449.83L115.25 452.58L112.5 455.33L109.75 452.58Z" fill="#a266e8"/>
<path d="M119.12 446.37L121.87 449.12L119.12 451.87L116.37 449.12Z" fill="#a266e8"/>
<path d="M125.75 441.32L128.5 444.07L125.75 446.82L123 444.07Z" fill="#a266e8"/>
<path d="M132.38 432.81L135.13 435.56L132.38 438.31L129.63 435.56Z" fill="#a266e8"/>
<path d="M139 417.68L141.75 420.43L139 423.18L136.25 420.43Z" fill="#a266e8"/>
<path d="M145.63 397.83L148.38 400.58L145.63 403.33L142.88 400.58Z" fill="#a266e8"/>
<path d="M152.26 376.71L155.01 379.46L152.26 382.21L149.51 379.46Z" fill="#a266e8"/>
<path d="M158.89 358.11L161.64 360.86L158.89 363.61L156.14 360.86Z" fill="#a266e8"/>
<path d="M165.51 345.19L168.26 347.94L165.51 350.69L162.76 347.94Z" fill="#a266e8"/>
<path d="M172.14 336.99L174.89 339.74L172.14 342.49L169.39 339.74Z" fill="#a266e8"/>
<path d="M178.77 331.63L181.52 334.38L178.77 337.13L176.02 334.38Z" fill="#a266e8"/>
<path d="M185.39 328.48L188.14 331.23L185.39 333.98L182.64 331.23Z" fill="#a266e8"/>
<path d="M192.02 325.33L194.77 328.08L192.02 330.83L189.27 328.08Z" fill="#a266e8"/>
<path d="M198.65 324.38L201.4 327.13L198.65 329.88L195.9 327.13Z" fill="#a266e8"/>
<path d="M205.27 324.38L208.02 327.13L205.27 329.88L202.52 327.13Z" fill="#a266e8"/>
<path d="M211.9 325.96L214.65 328.71L211.9 331.46L209.15 328.71Z" fill="#a266e8"/>
<path d="M218.53 328.48L221.28 331.23L218.53 333.98L215.78 331.23Z" fill="#a266e8"/>
<path d="M225.16 325.96L227.91 328.71L225.16 331.46L222.41 328.71Z" fill="#a266e8"/>
<path d="M231.78 322.49L234.53 325.24L231.78 327.99L229.03 325.24Z" fill="#a266e8"/>
<path d="M238.41 319.97L241.16 322.72L238.41 325.47L235.66 322.72Z" fill="#a266e8"/>
<line x1="50" y1="294.4" x2="62.3" y2="294.4" stroke="#3c3c3c" stroke-width="0.7" stroke-opacity="0.45"/>
<rect x="54.2" y="292.5" width="3.8" height="3.8" fill="#3c3c3c"/>
<text x="64.2" y="296.7" font-size="6.8" text-anchor="start" fill="#383838" textLength="28" lengthAdjust="spacingAndGlyphs" stroke="#383838" stroke-width="0.18">0.2g/mL CS</text>
<line x1="50" y1="302.1" x2="62.3" y2="302.1" stroke="#ef3535" stroke-width="0.7" stroke-opacity="0.45"/>
<circle cx="56.1" cy="302.1" r="2.28" fill="#ef3535"/>
<text x="64.2" y="304.4" font-size="6.8" text-anchor="start" fill="#383838" textLength="28" lengthAdjust="spacingAndGlyphs" stroke="#383838" stroke-width="0.18">0.4g/mL CS</text>
<line x1="50" y1="309.8" x2="62.3" y2="309.8" stroke="#1f5fe8" stroke-width="0.7" stroke-opacity="0.45"/>
<path d="M56.1 307.46L58.56 311.92L53.64 311.92Z" fill="#1f5fe8"/>
<text x="64.2" y="312.1" font-size="6.8" text-anchor="start" fill="#383838" textLength="28" lengthAdjust="spacingAndGlyphs" stroke="#383838" stroke-width="0.18">0.6g/mL CS</text>
<line x1="50" y1="317.5" x2="62.3" y2="317.5" stroke="#22a452" stroke-width="0.7" stroke-opacity="0.45"/>
<path d="M56.1 319.84L58.56 315.38L53.64 315.38Z" fill="#22a452"/>
<text x="64.2" y="319.8" font-size="6.8" text-anchor="start" fill="#383838" textLength="28" lengthAdjust="spacingAndGlyphs" stroke="#383838" stroke-width="0.18">0.8g/mL CS</text>
<line x1="50" y1="325.2" x2="62.3" y2="325.2" stroke="#a266e8" stroke-width="0.7" stroke-opacity="0.45"/>
<path d="M56.1 322.59L58.71 325.2L56.1 327.81L53.49 325.2Z" fill="#a266e8"/>
<text x="64.2" y="327.5" font-size="6.8" text-anchor="start" fill="#383838" textLength="28" lengthAdjust="spacingAndGlyphs" stroke="#383838" stroke-width="0.18">1.0g/mL CS</text>
<text x="131" y="537.4" font-size="15" text-anchor="start" fill="#111" stroke="#111" stroke-width="0.18">(</text>
<text x="141.2" y="537.4" font-size="15.4" text-anchor="middle" fill="#111" stroke="#111" stroke-width="0.4">C</text>
<text x="150.6" y="537.4" font-size="15" text-anchor="end" fill="#111" stroke="#111" stroke-width="0.18">)</text>
<line x1="322.9" y1="293.8" x2="322.9" y2="476" stroke="#4a4a4a" stroke-width="1.4"/>
<line x1="319.6" y1="475.5" x2="545" y2="475.5" stroke="#222" stroke-width="1.4"/>
<line x1="319.8" y1="475.5" x2="322.8" y2="475.5" stroke="#222" stroke-width="1.2"/>
<text x="317.4" y="478.9" font-size="11" text-anchor="end" fill="#222" stroke="#222" stroke-width="0.18">0</text>
<line x1="319.8" y1="439.24" x2="322.8" y2="439.24" stroke="#222" stroke-width="1.2"/>
<text x="317.4" y="442.64" font-size="11" text-anchor="end" fill="#222" stroke="#222" stroke-width="0.18">2</text>
<line x1="319.8" y1="402.98" x2="322.8" y2="402.98" stroke="#222" stroke-width="1.2"/>
<text x="317.4" y="406.38" font-size="11" text-anchor="end" fill="#222" stroke="#222" stroke-width="0.18">4</text>
<line x1="319.8" y1="366.72" x2="322.8" y2="366.72" stroke="#222" stroke-width="1.2"/>
<text x="317.4" y="370.12" font-size="11" text-anchor="end" fill="#222" stroke="#222" stroke-width="0.18">6</text>
<line x1="319.8" y1="330.46" x2="322.8" y2="330.46" stroke="#222" stroke-width="1.2"/>
<text x="317.4" y="333.86" font-size="11" text-anchor="end" fill="#222" stroke="#222" stroke-width="0.18">8</text>
<line x1="319.8" y1="294.2" x2="322.8" y2="294.2" stroke="#222" stroke-width="1.2"/>
<text x="317.4" y="297.6" font-size="11" text-anchor="end" fill="#222" stroke="#222" stroke-width="0.18">10</text>
<line x1="345.1" y1="475.5" x2="345.1" y2="478.6" stroke="#222" stroke-width="1.2"/>
<text x="345.1" y="490.6" font-size="11.2" text-anchor="middle" fill="#222" stroke="#222" stroke-width="0.18">0.2</text>
<line x1="389.35" y1="475.5" x2="389.35" y2="478.6" stroke="#222" stroke-width="1.2"/>
<text x="389.35" y="490.6" font-size="11.2" text-anchor="middle" fill="#222" stroke="#222" stroke-width="0.18">0.4</text>
<line x1="433.6" y1="475.5" x2="433.6" y2="478.6" stroke="#222" stroke-width="1.2"/>
<text x="433.6" y="490.6" font-size="11.2" text-anchor="middle" fill="#222" stroke="#222" stroke-width="0.18">0.6</text>
<line x1="477.85" y1="475.5" x2="477.85" y2="478.6" stroke="#222" stroke-width="1.2"/>
<text x="477.85" y="490.6" font-size="11.2" text-anchor="middle" fill="#222" stroke="#222" stroke-width="0.18">0.8</text>
<line x1="522.1" y1="475.5" x2="522.1" y2="478.6" stroke="#222" stroke-width="1.2"/>
<text x="522.1" y="490.6" font-size="11.2" text-anchor="middle" fill="#222" stroke="#222" stroke-width="0.18">1.0</text>
<text x="433.6" y="508.6" font-size="10.8" text-anchor="middle" fill="#222" textLength="108.4" lengthAdjust="spacingAndGlyphs" stroke="#222" stroke-width="0.18">CS concentration (g/mL)</text>
<text x="302" y="384.6" font-size="11.2" text-anchor="middle" fill="#222" textLength="82.6" lengthAdjust="spacingAndGlyphs" transform="rotate(-90 302 384.6)" stroke="#222" stroke-width="0.18">Scattering rate (%)</text>
<polyline points="345.1,321.21 389.35,371.07 433.6,391.2 477.85,409.33 522.1,415.85" fill="none" stroke="#111" stroke-width="1.3"/>
<line x1="345.1" y1="317.51" x2="345.1" y2="324.91" stroke="#aaa" stroke-width="0.8"/>
<line x1="343.5" y1="317.51" x2="346.7" y2="317.51" stroke="#aaa" stroke-width="0.8"/>
<line x1="343.5" y1="324.91" x2="346.7" y2="324.91" stroke="#aaa" stroke-width="0.8"/>
<rect x="343.1" y="319.21" width="4" height="4" fill="#0a0a0a"/>
<line x1="389.35" y1="363.97" x2="389.35" y2="378.17" stroke="#aaa" stroke-width="0.8"/>
<line x1="387.75" y1="363.97" x2="390.95" y2="363.97" stroke="#aaa" stroke-width="0.8"/>
<line x1="387.75" y1="378.17" x2="390.95" y2="378.17" stroke="#aaa" stroke-width="0.8"/>
<rect x="387.35" y="369.07" width="4" height="4" fill="#0a0a0a"/>
<rect x="431.6" y="389.2" width="4" height="4" fill="#0a0a0a"/>
<line x1="477.85" y1="397.73" x2="477.85" y2="420.93" stroke="#aaa" stroke-width="0.8"/>
<line x1="476.25" y1="397.73" x2="479.45" y2="397.73" stroke="#aaa" stroke-width="0.8"/>
<line x1="476.25" y1="420.93" x2="479.45" y2="420.93" stroke="#aaa" stroke-width="0.8"/>
<rect x="475.85" y="407.33" width="4" height="4" fill="#0a0a0a"/>
<rect x="520.1" y="413.85" width="4" height="4" fill="#0a0a0a"/>
<text x="353.8" y="321" font-size="10.8" text-anchor="middle" fill="#333" stroke="#333" stroke-width="0.18">a</text>
<text x="395.9" y="364.6" font-size="10.8" text-anchor="middle" fill="#333" stroke="#333" stroke-width="0.18">b</text>
<text x="436.5" y="385" font-size="10.8" text-anchor="middle" fill="#333" stroke="#333" stroke-width="0.18">c</text>
<text x="485.2" y="403.4" font-size="10.8" text-anchor="middle" fill="#333" stroke="#333" stroke-width="0.18">d</text>
<text x="522.5" y="409.6" font-size="10.8" text-anchor="middle" fill="#333" stroke="#333" stroke-width="0.18">d</text>
<text x="425.1" y="537.9" font-size="15" text-anchor="middle" fill="#111" textLength="20.2" lengthAdjust="spacingAndGlyphs" stroke="#111" stroke-width="0.18">(<tspan font-weight="bold">D</tspan>)</text></svg>
</body></html>
